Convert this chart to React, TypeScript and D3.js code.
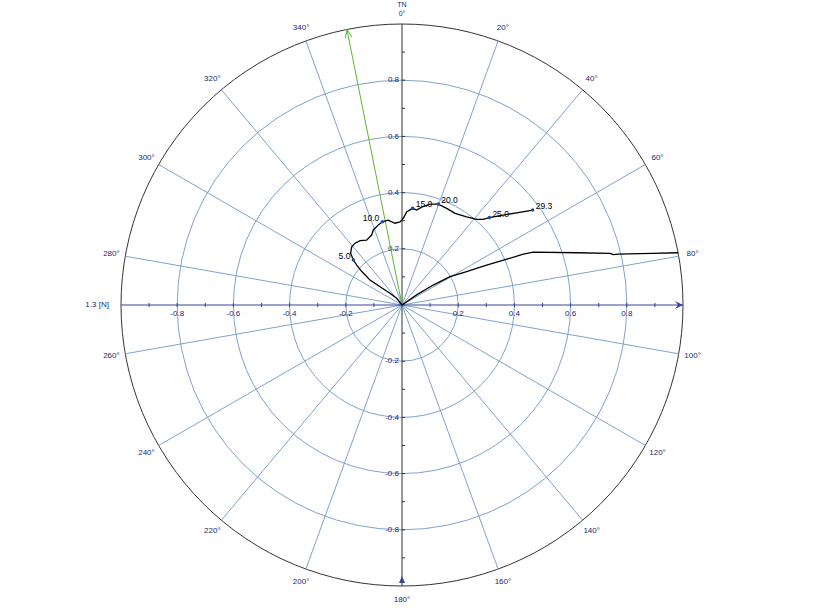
import React from "react";
import * as d3 from "d3";

// ---- data ----
const ringValues = [0.2, 0.4, 0.6, 0.8, 1.0];
const spokeAngles = [20, 40, 60, 80, 100, 120, 140, 160, 200, 220, 240, 260, 280, 300, 320, 340];
const angleLabels = ["0°", "20°", "40°", "60°", "80°", "100°", "120°", "140°", "160°", "180°", "200°", "220°", "240°", "260°", "1.3 [N]", "280°", "300°", "320°", "340°"];
const angleLabelAngles = [0, 20, 40, 60, 80, 100, 120, 140, 160, 180, 200, 220, 240, 260, 270, 280, 300, 320, 340];
const axisTickLabels = [-0.8, -0.6, -0.4, -0.2, 0.2, 0.4, 0.6, 0.8];
const minorTicks = [-0.9, -0.8, -0.7, -0.6, -0.5, -0.4, -0.3, -0.2, -0.1, 0.1, 0.2, 0.3, 0.4, 0.5, 0.6, 0.7, 0.8, 0.9];

// curve 1 (x, y in force units)
const curve1X = [0, -0.019, -0.043, -0.078, -0.114, -0.143, -0.161, -0.173, -0.183, -0.179, -0.167, -0.149, -0.126, -0.108, -0.102, -0.084, -0.070, -0.049, -0.025, -0.007, 0.005, 0.017, 0.038, 0.052, 0.070, 0.100, 0.129, 0.159, 0.189, 0.230, 0.266, 0.289, 0.311, 0.360, 0.408, 0.465];
const curve1Y = [0, 0.024, 0.042, 0.065, 0.089, 0.119, 0.142, 0.160, 0.184, 0.207, 0.220, 0.229, 0.231, 0.249, 0.267, 0.285, 0.296, 0.302, 0.291, 0.296, 0.309, 0.332, 0.344, 0.338, 0.348, 0.359, 0.359, 0.344, 0.326, 0.314, 0.305, 0.305, 0.311, 0.320, 0.328, 0.338];

// curve 2
const curve2X = [0, 0.052, 0.111, 0.171, 0.230, 0.301, 0.373, 0.432, 0.467, 0.622, 0.740, 0.752, 0.770, 0.889, 0.983];
const curve2Y = [0, 0.036, 0.071, 0.101, 0.119, 0.142, 0.163, 0.181, 0.188, 0.186, 0.184, 0.179, 0.181, 0.184, 0.186];

// marked points on curve 1
const markLabels = ["5.0", "10.0", "15.0", "20.0", "25.0", "29.3"];
const markX = [-0.173, -0.070, 0.038, 0.129, 0.311, 0.465];
const markY = [0.160, 0.296, 0.344, 0.359, 0.311, 0.338];

// green resultant vector
const vectorAngle = 348.7;
const vectorMagnitude = 1.0;

export default function App() {
  const W = 825, H = 612;
  const cx = 402, cy = 305, R = 281;
  const x = d3.scaleLinear().domain([-1, 1]).range([cx - R, cx + R]);
  const y = d3.scaleLinear().domain([-1, 1]).range([cy + R, cy - R]);
  const r = d3.scaleLinear().domain([0, 1]).range([0, R]);
  const polar = (deg: number, v: number): [number, number] => {
    const a = (deg * Math.PI) / 180;
    return [cx + r(v) * Math.sin(a), cy - r(v) * Math.cos(a)];
  };
  const line = d3.line<[number, number]>().x((d) => x(d[0])).y((d) => y(d[1]));
  const c1 = curve1X.map((v, i) => [v, curve1Y[i]] as [number, number]);
  const c2 = curve2X.map((v, i) => [v, curve2Y[i]] as [number, number]);

  const grid = "#7ea2cf";
  const navy = "#1c1f6e";
  const axisBlue = "#34449a";
  const font = "Liberation Sans, Arial, sans-serif";

  const [vx, vy] = polar(vectorAngle, vectorMagnitude);
  const va = Math.atan2(vy - cy, vx - cx);
  const ah = 9, aw = 0.38;
  const arrowPts = [
    [vx - ah * Math.cos(va - aw), vy - ah * Math.sin(va - aw)],
    [vx, vy],
    [vx - ah * Math.cos(va + aw), vy - ah * Math.sin(va + aw)],
  ];

  return (
    <svg width={W} height={H} style={{ position: "absolute", left: 0, top: 0, background: "#fff" }}>
      {/* rings */}
      {ringValues.map((v) => (
        <circle key={v} cx={cx} cy={cy} r={r(v)} fill="none" stroke={v === 1 ? "#333" : grid} strokeWidth={1} />
      ))}
      {/* spokes */}
      {spokeAngles.map((a) => {
        const [px, py] = polar(a, 1);
        return <line key={a} x1={cx} y1={cy} x2={px} y2={py} stroke={grid} strokeWidth={1} />;
      })}
      {/* angle labels */}
      {angleLabelAngles.map((a, i) => {
        if (a === 0) {
          return (
            <text key={a} x={cx} y={16} fontSize={7} fontFamily={font} fill={navy} textAnchor="middle">
              {angleLabels[i]}
            </text>
          );
        }
        const [px, py] = polar(a, a === 270 ? 1.085 : 1.05);
        return (
          <text key={a} x={px} y={py} fontSize={8} fontFamily={font} fill={navy} textAnchor="middle" dominantBaseline="middle">
            {angleLabels[i]}
          </text>
        );
      })}
      <text x={cx} y={7} fontSize={7} fontFamily={font} fill={navy} textAnchor="middle">TN</text>

      {/* vertical axis */}
      <line x1={x(0)} y1={y(1)} x2={x(0)} y2={y(-1)} stroke="#333" strokeWidth={1} />
      {minorTicks.map((t) => (
        <line key={"yt" + t} x1={x(0)} x2={x(0) + 3} y1={y(t)} y2={y(t)} stroke="#333" />
      ))}
      {axisTickLabels.map((t) => (
        <text key={"yl" + t} x={x(0) - 3} y={y(t)} fontSize={8} fontFamily={font} fill={navy} textAnchor="end" dominantBaseline="middle">
          {t.toFixed(1)}
        </text>
      ))}
      <path d={`M${x(0) - 3},${y(-1) - 3} L${x(0)},${y(-1) - 10} L${x(0) + 3},${y(-1) - 3} Z`} fill={axisBlue} />

      {/* horizontal axis */}
      <line x1={x(-1)} y1={y(0)} x2={x(1)} y2={y(0)} stroke={axisBlue} strokeWidth={1} />
      {minorTicks.map((t) => (
        <line key={"xt" + t} x1={x(t)} x2={x(t)} y1={y(0) - 2} y2={y(0) + 2} stroke={axisBlue} />
      ))}
      {axisTickLabels.map((t) => (
        <text key={"xl" + t} x={x(t)} y={y(0) + 11} fontSize={8} fontFamily={font} fill={navy} textAnchor="middle">
          {t.toFixed(1)}
        </text>
      ))}
      <path d={`M${x(1) - 8},${y(0) - 4} L${x(1)},${y(0)} L${x(1) - 8},${y(0) + 4} L${x(1) - 5},${y(0)} Z`} fill={axisBlue} />

      {/* green vector */}
      <line x1={cx} y1={cy} x2={vx} y2={vy} stroke="#5cb82c" strokeWidth={1} />
      <polyline points={arrowPts.map((p) => p.join(",")).join(" ")} fill="none" stroke="#5cb82c" strokeWidth={1} />

      {/* curves */}
      <path d={line(c2) || ""} fill="none" stroke="#000" strokeWidth={1.3} />
      <path d={line(c1) || ""} fill="none" stroke="#000" strokeWidth={1.3} />

      {/* marks */}
      {markLabels.map((lab, i) => {
        const px = x(markX[i]), py = y(markY[i]);
        const left = markX[i] < 0;
        return (
          <g key={lab}>
            <circle cx={px} cy={py} r={1.8} fill="#2a4aa0" />
            <text x={left ? px - 3 : px + 3} y={py - 1} fontSize={8.5} fontFamily={font} fill="#000" textAnchor={left ? "end" : "start"}>
              {lab}
            </text>
          </g>
        );
      })}
    </svg>
  );
}
